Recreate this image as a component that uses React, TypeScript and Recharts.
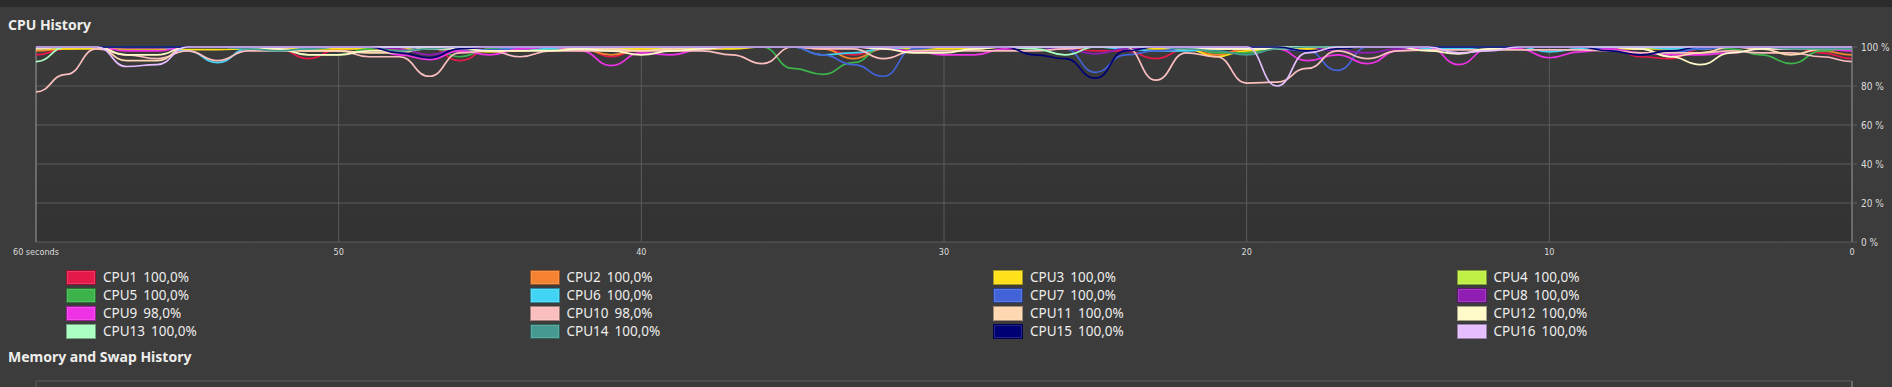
import { CartesianGrid, Line, LineChart, ReferenceLine, XAxis, YAxis } from "recharts"

// seconds ago, left to right
const seconds = [
  60, 59, 58, 57, 56, 55, 54, 53, 52, 51, 50, 49, 48, 47, 46, 45, 44, 43, 42, 41,
  40, 39, 38, 37, 36, 35, 34, 33, 32, 31, 30, 29, 28, 27, 26, 25, 24, 23, 22, 21,
  20, 19, 18, 17, 16, 15, 14, 13, 12, 11, 10, 9, 8, 7, 6, 5, 4, 3, 2, 1, 0,
]

const cpu1 = [
  96, 99, 100, 100, 100, 100, 100, 100, 99, 94,
  99, 100, 100, 100, 93, 99, 100, 100, 100, 95,
  99, 100, 100, 100, 100, 100, 99, 96, 99, 100,
  100, 100, 100, 100, 100, 98, 98, 94, 99, 96,
  99, 100, 100, 100, 100, 100, 100, 100, 100, 100,
  100, 100, 100, 95, 94, 99, 100, 100, 100, 97,
  94,
]
const cpu2 = [
  98, 99, 100, 100, 100, 100, 100, 100, 100, 100,
  100, 100, 100, 100, 99, 100, 100, 100, 99, 96,
  99, 100, 100, 100, 100, 100, 99, 94, 99, 100,
  100, 100, 100, 100, 100, 100, 100, 100, 99, 96,
  99, 99, 99, 100, 100, 100, 100, 100, 100, 100,
  100, 100, 100, 99, 100, 100, 100, 100, 100, 98,
  96,
]
const cpu3 = [
  99, 99, 99, 99, 99, 98.7, 98.7, 99, 99, 99,
  99, 99, 99, 99, 98, 97.5, 98, 99, 99, 99,
  99, 99, 99, 99, 100, 100, 100, 100, 100, 99,
  99, 99, 100, 100, 100, 100, 100, 99, 99, 95,
  98, 99, 99, 99, 100, 100, 100, 100, 100, 100,
  100, 100, 99, 99, 99, 99, 100, 100, 100, 100,
  100,
]
const cpu4 = [
  100, 100, 100, 100, 100, 100, 100, 100, 100, 100,
  100, 100, 100, 100, 100, 100, 100, 100, 100, 100,
  100, 100, 100, 100, 100, 100, 100, 100, 100, 99.5,
  100, 100, 100, 100, 100, 100, 100, 100, 100, 100,
  100, 100, 100, 100, 100, 100, 100, 100, 100, 100,
  100, 100, 100, 99.5, 99.5, 100, 100, 100, 100, 100,
  100,
]
const cpu5 = [
  99, 100, 100, 100, 100, 100, 100, 100, 99, 96,
  96, 99, 100, 100, 95, 99, 100, 100, 100, 100,
  100, 100, 100, 100, 100, 89, 86, 92, 100, 100,
  100, 100, 100, 100, 100, 100, 100, 100, 100, 97,
  97, 99, 100, 100, 100, 100, 100, 100, 100, 100,
  100, 100, 100, 100, 100, 100, 99, 96, 91.5, 98,
  99,
]
const cpu6 = [
  100, 100, 100, 100, 100, 98, 92, 99, 98, 99,
  100, 100, 100, 100, 100, 100, 99, 99, 100, 100,
  100, 100, 100, 100, 100, 100, 96, 97, 99, 100,
  100, 100, 100, 100, 100, 100, 99, 98, 98, 99,
  99, 99, 100, 100, 100, 100, 99, 99, 100, 100,
  97.5, 99, 100, 100, 99, 99, 100, 100, 100, 100,
  99,
]
const cpu7 = [
  100, 100, 100, 100, 100, 100, 100, 100, 100, 100,
  100, 100, 100, 99, 98.5, 98.5, 99, 100, 100, 100,
  100, 100, 100, 100, 100, 100, 96, 91, 85, 99,
  100, 100, 100, 100, 99, 87, 96, 98, 99, 99,
  99, 99, 98, 88, 100, 100, 100, 100, 100, 100,
  100, 100, 99, 97, 97, 99, 100, 100, 100, 100,
  100,
]
const cpu8 = [
  100, 100, 100, 99.5, 99.5, 100, 100, 100, 100, 100,
  100, 100, 99, 96, 99, 100, 100, 100, 100, 100,
  100, 100, 100, 100, 100, 100, 100, 100, 100, 100,
  100, 100, 100, 100, 99, 96.5, 99, 100, 100, 100,
  100, 100, 100, 98, 97, 99, 100, 100, 100, 100,
  100, 100, 100, 100, 100, 100, 100, 100, 100, 100,
  100,
]
const cpu9 = [
  100, 100, 100, 98, 98, 100, 100, 100, 100, 100,
  100, 100, 96, 93.5, 98, 96, 99, 100, 98, 90.5,
  97, 96, 99, 100, 100, 100, 100, 100, 99, 98,
  96, 96, 99, 100, 100, 100, 100, 100, 100, 100,
  100, 99, 93, 96, 91.5, 98, 100, 91, 99, 99,
  94.5, 97.5, 99, 97, 96, 96, 97, 99, 99, 99,
  98,
]
const cpu10 = [
  77, 86, 99, 96, 94, 98, 93, 98, 98, 98,
  98, 95, 95, 85, 97, 98, 95, 98, 98, 98,
  98, 98, 98, 96, 91.5, 100, 99, 99, 94, 98,
  98, 98, 98, 98, 99, 100, 100, 83, 97, 95,
  81.5, 82, 89, 98, 94, 98, 98.5, 98.5, 98.5, 98.5,
  98.5, 98.5, 98, 97, 97, 97, 98, 97, 97, 95,
  92.5,
]
const cpu11 = [
  99, 100, 100, 93, 93, 100, 100, 100, 99, 98,
  98, 97, 97, 100, 100, 100, 100, 100, 99, 99,
  98, 99, 100, 100, 100, 100, 100, 100, 100, 100,
  100, 100, 100, 100, 100, 100, 100, 100, 99, 99,
  99, 99, 100, 100, 100, 100, 100, 100, 100, 100,
  100, 100, 100, 99, 95, 97, 100, 99, 96, 99,
  99,
]
const cpu12 = [
  100, 100, 100, 96, 96, 100, 100, 100, 99, 96,
  96, 98, 98, 99, 99, 98, 98, 98, 99, 98,
  96, 98, 99, 100, 100, 100, 100, 100, 99, 97,
  97, 99, 100, 100, 100, 100, 100, 100, 99, 99,
  99, 99, 100, 100, 100, 100, 98, 96.5, 99, 100,
  100, 100, 100, 99, 95, 91, 97, 99, 99, 99,
  100,
]
const cpu13 = [
  92.5, 100, 100, 100, 100, 100, 100, 100, 100, 100,
  100, 100, 100, 100, 100, 100, 100, 100, 100, 100,
  100, 100, 100, 100, 100, 100, 100, 100, 100, 100,
  100, 100, 100, 99, 96, 100, 100, 100, 100, 100,
  100, 100, 100, 100, 100, 100, 100, 100, 100, 100,
  100, 100, 100, 100, 100, 100, 100, 100, 100, 100,
  100,
]
const cpu14 = [
  100, 100, 100, 100, 100, 100, 100, 99, 98, 99,
  100, 100, 98, 99, 100, 100, 100, 100, 100, 100,
  100, 100, 100, 100, 100, 100, 100, 100, 100, 100,
  100, 100, 100, 100, 100, 100, 100, 100, 99, 98,
  96, 99, 100, 100, 100, 100, 100, 100, 100, 100,
  100, 100, 100, 100, 100, 100, 100, 100, 99, 99,
  99,
]
const cpu15 = [
  100, 100, 100, 100, 100, 100, 100, 100, 100, 100,
  100, 100, 97, 94.5, 99, 100, 100, 100, 100, 100,
  100, 100, 100, 100, 100, 100, 100, 100, 100, 100,
  100, 100, 100, 96, 94, 84, 98, 100, 100, 100,
  100, 100, 98, 99, 100, 100, 100, 100, 100, 100,
  100, 100, 98, 96, 98, 100, 100, 100, 100, 100,
  100,
]
const cpu16 = [
  100, 100, 100, 90, 91, 100, 100, 100, 100, 100,
  100, 100, 100, 100, 100, 100, 100, 100, 100, 100,
  100, 100, 100, 100, 100, 100, 100, 100, 100, 100,
  100, 100, 100, 100, 100, 100, 100, 100, 100, 100,
  100, 80, 97, 100, 100, 100, 100, 97, 98, 100,
  100, 100, 100, 100, 100, 100, 100, 100, 100, 100,
  100,
]

const cpuSeries = [cpu1, cpu2, cpu3, cpu4, cpu5, cpu6, cpu7, cpu8, cpu9, cpu10, cpu11, cpu12, cpu13, cpu14, cpu15, cpu16]
const cpuNames = ["CPU1", "CPU2", "CPU3", "CPU4", "CPU5", "CPU6", "CPU7", "CPU8", "CPU9", "CPU10", "CPU11", "CPU12", "CPU13", "CPU14", "CPU15", "CPU16"]
const cpuNow = ["100,0%", "100,0%", "100,0%", "100,0%", "100,0%", "100,0%", "100,0%", "100,0%", "98,0%", "98,0%", "100,0%", "100,0%", "100,0%", "100,0%", "100,0%", "100,0%"]
const cpuColors = [
  "#e6194b", "#f58231", "#ffe119", "#bfef45",
  "#3cb44b", "#42d4f4", "#4363d8", "#911eb4",
  "#f032e6", "#fabebe", "#ffd8b1", "#fffac8",
  "#aaffc3", "#469990", "#000075", "#e6beff",
]

const xTicks = [60, 50, 40, 30, 20, 10, 0]
const yTicks = [0, 20, 40, 60, 80, 100]

const rows = seconds.map((t, i) => {
  const row: Record<string, number> = { t }
  cpuSeries.forEach((s, k) => (row[cpuNames[k]] = s[i]))
  return row
})

const GRID = "#5c5c5c"
const EDGE = "#8a8a8a"
const LABEL = "#dcdcdc"
const tickFont = "'Liberation Sans Narrow', 'DejaVu Sans Condensed', 'Liberation Sans', sans-serif"
const uiFont = "'Noto Sans', 'Open Sans', sans-serif"

// plain svg text so recharts doesn't wrap "100 %"
function PercentTick({ x, y, payload }: any) {
  return (
    <text x={x} y={y} dy="0.35em" fill={LABEL} fontSize={10} fontFamily={tickFont} textAnchor="start">
      {`${payload.value} %`}
    </text>
  )
}

function SecondsTick({ x, y, payload }: any) {
  return (
    <text x={x} y={y} dy="0.71em" fill={LABEL} fontSize={9} fontFamily={tickFont} textAnchor="middle">
      {payload.value === 60 ? "60 seconds" : String(payload.value)}
    </text>
  )
}

function HistoryChart({ series, height }: { series: boolean; height: number }) {
  const bg = series ? "bgCpu" : "bgMem"
  return (
    <LineChart width={1892} height={height} data={rows} margin={{ top: series ? 47 : 10, right: 0, bottom: 0, left: 36 }}>
      <defs>
        <linearGradient id={bg} x1="0" y1="0" x2="0" y2="1">
          <stop offset="0%" stopColor="#3a3a3a" />
          <stop offset="100%" stopColor="#323232" />
        </linearGradient>
      </defs>
      <CartesianGrid stroke={GRID} fill={`url(#${bg})`} />
      <XAxis
        dataKey="t"
        type="number"
        domain={[0, 60]}
        reversed
        ticks={xTicks}
        height={20}
        axisLine={false}
        tickLine={false}
        tickSize={0}
        tickMargin={7}
        interval={0}
        tick={series ? <SecondsTick /> : false}
      />
      <YAxis
        orientation="right"
        type="number"
        domain={[0, 100]}
        ticks={yTicks}
        width={40}
        axisLine={{ stroke: EDGE }}
        tickLine={{ stroke: GRID }}
        tickSize={5}
        tickMargin={4}
        interval={0}
        tick={<PercentTick />}
      />
      <ReferenceLine x={60} stroke={EDGE} />
      {series &&
        cpuNames.map((name, k) => (
          <Line
            key={name}
            dataKey={name}
            type="bumpX"
            stroke={cpuColors[k]}
            strokeWidth={1.7}
            dot={false}
            activeDot={false}
            isAnimationActive={false}
          />
        ))}
    </LineChart>
  )
}

export default function App() {
  return (
    <div
      style={{
        position: "fixed",
        left: 0,
        top: 0,
        width: 1892,
        height: 387,
        overflow: "hidden",
        background: "#3c3c3c",
        fontFamily: uiFont,
      }}
    >
      <div style={{ position: "absolute", left: 0, top: 0, width: 1892, height: 7, background: "#2b2b2b" }} />
      <div style={{ position: "absolute", left: 0, top: 0 }}>
        <HistoryChart series height={262} />
      </div>
      <div style={{ position: "absolute", left: 8, top: 18, fontSize: 14, lineHeight: "14px", fontWeight: 700, color: "#eeeeec" }}>
        CPU History
      </div>
      <div
        style={{
          position: "absolute",
          left: 66,
          top: 268,
          display: "grid",
          gridTemplateColumns: "repeat(4, 463.5px)",
          gridAutoRows: "18px",
        }}
      >
        {cpuNames.map((name, k) => (
          <div key={name} style={{ display: "flex", alignItems: "center", height: 18, color: "#eeeeec", fontSize: 13.5 }}>
            <span
              style={{
                width: 28,
                height: 13,
                background: cpuColors[k],
                border: "1px solid rgba(0,0,0,0.35)",
                boxShadow: "inset 0 0 0 1px rgba(255,255,255,0.15)",
                marginRight: 7,
              }}
            />
            <span>{name}</span>
            <span style={{ marginLeft: 6 }}>{cpuNow[k]}</span>
          </div>
        ))}
      </div>
      <div style={{ position: "absolute", left: 8, top: 350, fontSize: 14, lineHeight: "14px", fontWeight: 700, color: "#eeeeec" }}>
        Memory and Swap History
      </div>
      <div style={{ position: "absolute", left: 0, top: 371 }}>
        <HistoryChart series={false} height={200} />
      </div>
    </div>
  )
}
